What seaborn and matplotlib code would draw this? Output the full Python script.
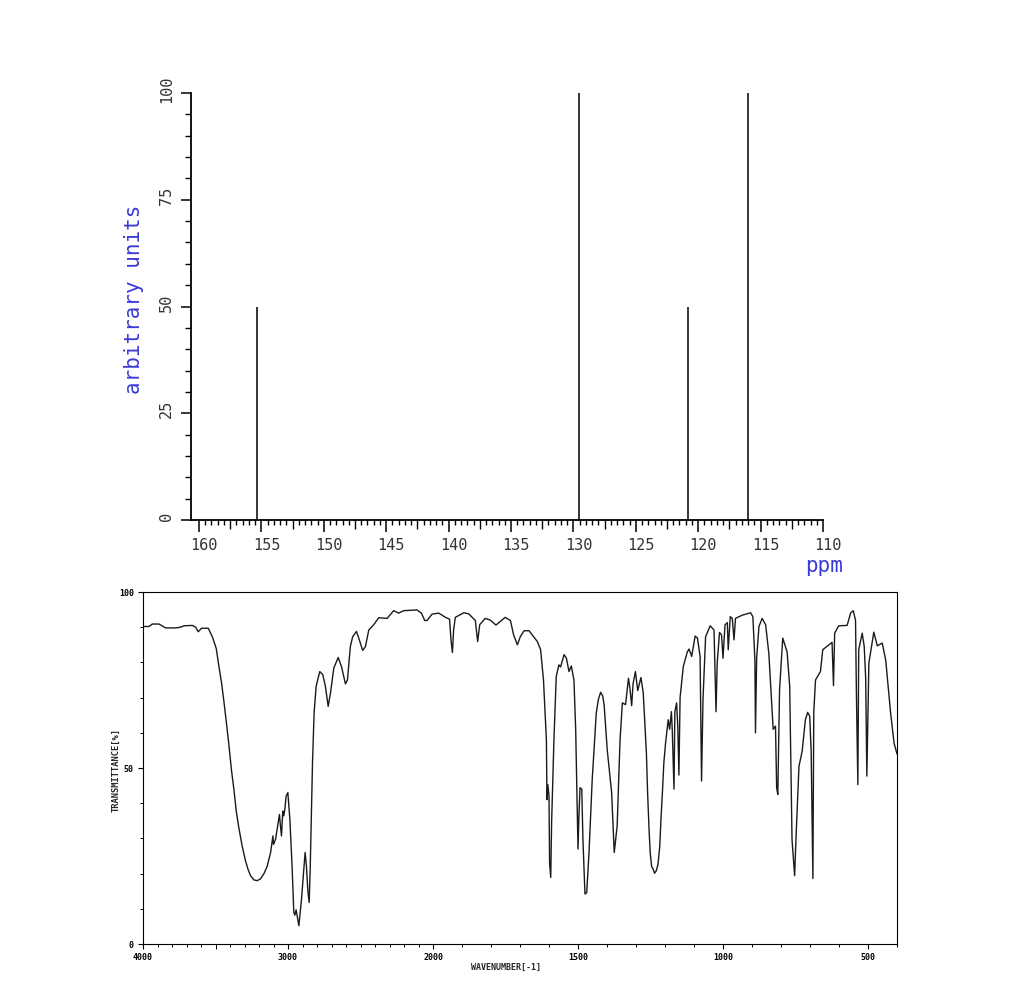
import numpy as np
import pandas as pd
import seaborn as sns
import matplotlib
matplotlib.use('Agg')
import matplotlib.pyplot as plt
from matplotlib.ticker import FixedLocator, FixedFormatter
from matplotlib.transforms import ScaledTranslation

# 13C NMR peaks
nmr_ppm = [155.35, 129.55, 120.8, 116.0]
nmr_height = [50, 100, 50, 100]
nmr_major = [160, 155, 150, 145, 140, 135, 130, 125, 120, 115, 110]
nmr_y_major = [0, 25, 50, 75, 100]

# IR spectrum
ir_wavenumber = [
    4000, 3959, 3936, 3890, 3844, 3775, 3741, 3718, 3660, 3637, 3619, 3596, 3550, 3522, 3495, 3477,
    3458, 3442, 3426, 3408, 3389, 3373, 3357, 3339, 3316, 3293, 3274, 3258, 3235, 3212, 3190, 3167,
    3144, 3120, 3104, 3100, 3086, 3075, 3059, 3052,
    3045, 3036, 3029, 3022, 3013, 3001, 2987, 2971, 2960, 2953, 2944, 2925, 2907, 2891, 2882, 2873,
    2863, 2854, 2847, 2838, 2831, 2820, 2806, 2781, 2760, 2742, 2723, 2707, 2684, 2654, 2631, 2604,
    2590, 2570, 2554, 2528, 2508, 2485, 2466, 2443, 2409, 2374, 2317, 2271, 2237, 2202, 2110, 2080,
    2057, 2041, 2007, 1980, 1957, 1943, 1938, 1933, 1929, 1923, 1894, 1877, 1854, 1846, 1839, 1820,
    1802, 1783, 1751, 1733, 1722, 1709, 1699, 1686, 1669, 1640, 1629, 1619, 1609, 1607, 1604, 1600,
    1598, 1594, 1591, 1583, 1575, 1566, 1560, 1548, 1540, 1531, 1523, 1514, 1508, 1500, 1497, 1493,
    1487, 1483, 1476, 1470, 1462, 1451, 1437, 1430, 1422, 1415, 1410, 1399, 1384, 1375, 1365, 1355,
    1347, 1336, 1326, 1321, 1315, 1310, 1302, 1294, 1283, 1275, 1264, 1260, 1255, 1251, 1246, 1241,
    1236, 1230, 1224, 1218, 1214, 1209, 1204, 1198, 1189,
    1184, 1178, 1175, 1169, 1166, 1160, 1156, 1152, 1148, 1137, 1123, 1117, 1108, 1096, 1088, 1079,
    1074, 1069, 1060, 1044, 1031, 1024, 1020, 1012, 1005, 1000, 993, 985, 982, 975, 968, 962,
    957, 934, 905, 897, 890, 888, 884, 876, 865, 853, 842, 827, 819, 815, 811, 805,
    794, 779, 770, 762, 753, 748, 738, 727, 716, 708, 701, 696, 690, 687, 681, 664,
    656, 624, 619, 615, 601, 572, 560, 551, 543, 540, 535, 532, 520, 513, 508, 504,
    497, 480, 468, 451, 439, 422, 410, 400]
ir_transmittance = [
    90.2, 90.2, 90.9, 90.9, 89.8, 89.8, 90.0, 90.4, 90.5, 90.0, 88.7, 89.7, 89.7, 87.3, 84.0, 79.0,
    74.1, 68.9, 63.3, 56.7, 49.1, 43.9, 37.8, 33.0, 27.8, 23.6, 21.0, 19.4, 18.2, 18.0, 18.5, 19.9,
    22.0, 26.0, 30.7, 28.3, 29.7, 32.6, 36.8, 33.5,
    30.7, 37.8, 36.4, 38.2, 42.0, 43.0, 35.4, 21.2, 9.0, 8.2, 9.7, 5.2, 12.7, 21.2, 26.0, 22.2,
    15.1, 11.8, 21.2, 38.2, 51.5, 65.6, 73.2, 77.4, 76.5, 73.2, 67.5, 71.3, 78.4, 81.4, 78.8, 73.9,
    75.0, 84.5, 87.3, 88.8, 86.4, 83.4, 84.5, 89.2, 90.7, 92.7, 92.5, 94.7, 94.0, 94.7, 94.9, 94.0,
    91.9, 91.9, 93.7, 94.0, 92.8, 92.3, 86.4, 82.8, 89.2, 92.8, 94.1, 93.8, 91.9, 85.9, 90.7, 92.5,
    92.0, 90.6, 92.8, 91.9, 87.8, 85.0, 87.3, 89.0, 89.0, 85.9, 83.6, 75.0, 58.0, 41.0, 45.3, 42.0,
    23.0, 18.9, 34.5, 58.0, 76.0, 79.3, 78.7, 82.2, 81.2, 77.4, 79.0, 75.0, 61.0, 27.0, 36.0, 44.4,
    44.0, 29.7, 14.2, 14.6, 26.0, 46.7, 65.6, 69.4, 71.5, 70.5, 68.0, 55.0, 43.0, 26.0, 33.5, 58.0,
    68.5, 68.0, 75.5, 72.7, 67.7, 74.0, 77.4, 72.0, 75.7, 71.3, 54.0, 43.0, 32.6, 25.9, 22.0, 21.3,
    20.1, 20.8, 22.7, 27.9, 35.4, 42.9, 51.5, 57.1, 63.7,
    61.0, 66.0, 61.0, 44.0, 66.0, 68.5, 62.0, 48.0, 70.0, 78.8, 83.0, 83.8, 81.7, 87.5, 86.9, 81.7,
    46.3, 69.4, 87.3, 90.4, 89.2, 66.0, 79.8, 88.5, 87.8, 81.2, 90.7, 91.3, 83.6, 93.0, 92.5, 86.4,
    92.5, 93.4, 94.1, 93.0, 80.7, 60.0, 81.2, 90.2, 92.5, 90.7, 82.6, 61.0, 61.9, 44.4, 42.5, 72.2,
    86.9, 83.0, 73.2, 29.7, 19.4, 30.7, 50.5, 54.8, 63.7, 65.8, 64.7, 54.8, 18.6, 65.8, 75.0, 77.4,
    83.6, 85.7, 73.4, 88.3, 90.4, 90.5, 94.0, 94.7, 92.0, 71.3, 45.3, 83.6, 88.3, 84.5, 75.5, 47.7,
    79.8, 88.6, 84.7, 85.5, 80.7, 65.6, 57.0, 54.0]
ir_major = [4000, 3000, 2000, 1500, 1000, 500]
ir_y_major = [0, 50, 100]
ir_y_labels = ['0', '50', '100']

W, H = 1024, 1001
PX = 0.72  # pixels to points at dpi 100
BLUE = '#3a3ad6'
mono = 'DejaVu Sans Mono'

sns.set_theme(style='ticks')
plt.rcParams['font.family'] = ['DejaVu Sans Mono', 'DejaVu Sans']
fig = plt.figure(figsize=(W / 100, H / 100), dpi=100, facecolor='white')

def px_axes(left, top, right, bottom):
    return fig.add_axes([left / W, 1 - bottom / H, (right - left) / W, (bottom - top) / H])

def shift(dx, dy):
    return ScaledTranslation(dx / 100, dy / 100, fig.dpi_scale_trans)

# --- top panel, NMR ---
ax = px_axes(191, 93, 823, 520)
ax.set_facecolor('white')
ax.vlines(nmr_ppm, 0, nmr_height, color='black', lw=1.1)
ax.set_xlim(160.64, 110)
ax.set_ylim(0, 100)
sns.despine(ax=ax)
for s in ['left', 'bottom']:
    ax.spines[s].set_linewidth(1.3)
    ax.spines[s].set_color('black')

ax.xaxis.set_major_locator(FixedLocator(nmr_major))
ax.xaxis.set_major_formatter(FixedFormatter([str(v) for v in nmr_major]))
nmr_minor = [v for v in np.arange(110, 160.5, 0.5) if v % 5 != 0]
ax.xaxis.set_minor_locator(FixedLocator(nmr_minor))
ax.tick_params(axis='x', which='major', length=12 * PX, width=1.1, labelsize=11, pad=4,
               color='black', labelcolor='#333333')
ax.tick_params(axis='x', which='minor', length=5 * PX, width=1.0, color='black')
for tick, v in zip(ax.xaxis.get_minor_ticks(), nmr_minor):
    if v % 2.5 == 0:
        tick.tick1line.set_markersize(9 * PX)
for lab in ax.get_xticklabels():
    lab.set_transform(lab.get_transform() + shift(5, 0))

ax.yaxis.set_major_locator(FixedLocator(nmr_y_major))
ax.yaxis.set_major_formatter(FixedFormatter([str(v) for v in nmr_y_major]))
ax.yaxis.set_minor_locator(FixedLocator([v for v in range(0, 100, 5) if v % 25 != 0]))
ax.tick_params(axis='y', which='major', length=10 * PX, width=1.1, labelsize=11, pad=5,
               color='black', labelcolor='#333333')
ax.tick_params(axis='y', which='minor', length=6 * PX, width=1.0, color='black')
for lab in ax.get_yticklabels():
    lab.set_rotation(90)
    lab.set_va('center')
    lab.set_transform(lab.get_transform() + shift(0, 4))

fig.text(134 / W, 1 - 299 / H, 'arbitrary units', color=BLUE, fontsize=15, rotation=90,
         ha='center', va='center', family=mono)
fig.text(843 / W, 1 - 566 / H, 'ppm', color=BLUE, fontsize=15, ha='right', va='center', family=mono)

# --- bottom panel, IR ---
ax2 = px_axes(143, 592, 897, 944)
ax2.set_facecolor('white')
df = pd.DataFrame({'wavenumber': ir_wavenumber, 'transmittance': ir_transmittance})
sns.lineplot(data=df, x='wavenumber', y='transmittance', sort=False, estimator=None,
             color='#1a1a1a', lw=1.0, ax=ax2)

# the instrument scale doubles below 2000 cm-1
wn_breaks = [400, 2000, 4000]
pos_breaks = [0, 1600, 2600]
ax2.set_xscale('function', functions=(lambda v: np.interp(v, wn_breaks, pos_breaks),
                                      lambda v: np.interp(v, pos_breaks, wn_breaks)))
ax2.set_xlim(4000, 400)
ax2.set_ylim(0, 100)
ax2.set_xlabel('')
ax2.set_ylabel('')
for s in ax2.spines.values():
    s.set_linewidth(0.8)
    s.set_color('black')

ax2.xaxis.set_major_locator(FixedLocator(ir_major))
ax2.xaxis.set_major_formatter(FixedFormatter([str(v) for v in ir_major]))
ir_minor = [v for v in range(400, 4000, 100) if v not in ir_major]
ax2.xaxis.set_minor_locator(FixedLocator(ir_minor))
ax2.tick_params(axis='x', which='major', length=5 * PX, width=0.8, labelsize=6, pad=3, colors='black')
ax2.tick_params(axis='x', which='minor', length=3 * PX, width=0.7, color='black')
for tick, v in zip(ax2.xaxis.get_minor_ticks(), ir_minor):
    if v == 3500:
        tick.tick1line.set_markersize(5 * PX)

ax2.yaxis.set_major_locator(FixedLocator(ir_y_major))
ax2.yaxis.set_major_formatter(FixedFormatter(ir_y_labels))
ax2.yaxis.set_minor_locator(FixedLocator([v for v in range(10, 100, 10) if v != 50]))
ax2.tick_params(axis='y', which='major', length=5 * PX, width=0.8, labelsize=6, pad=3, colors='black')
ax2.tick_params(axis='y', which='minor', length=3 * PX, width=0.7, color='black')
for lab in ax2.get_xticklabels() + ax2.get_yticklabels():
    lab.set_fontweight('bold')

fig.text(506 / W, 1 - 967 / H, 'WAVENUMBER[-1]', fontsize=6, fontweight='bold',
         ha='center', va='center', family=mono)
fig.text(116 / W, 1 - 770 / H, 'TRANSMITTANCE[%]', fontsize=6.3, fontweight='bold', rotation=90,
         ha='center', va='center', family=mono)

fig.savefig('out.png', dpi=100, facecolor='white')
